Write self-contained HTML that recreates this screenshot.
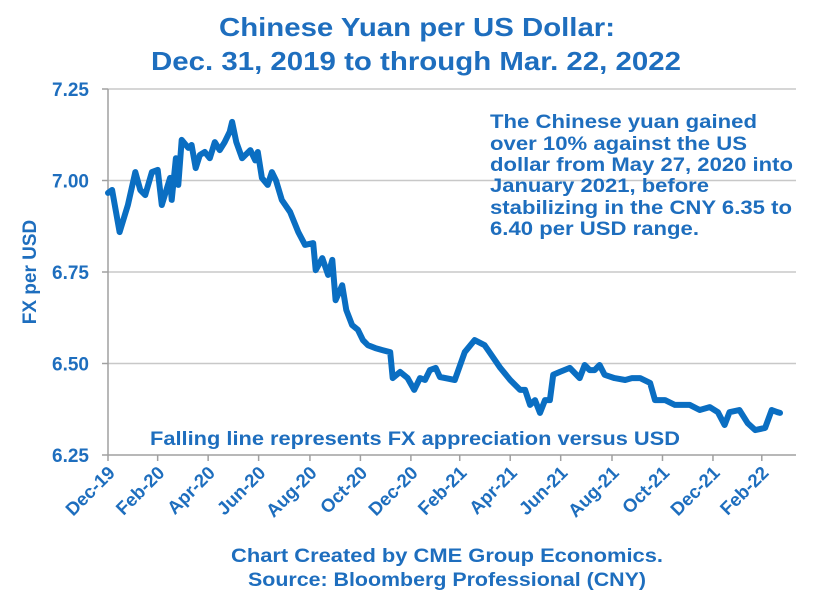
<!DOCTYPE html>
<html><head><meta charset="utf-8"><style>
html,body{margin:0;padding:0;background:#fff;}
svg{display:block;font-family:"Liberation Sans",Arial,sans-serif;font-weight:bold;}
</style></head><body>
<svg id="chart" width="828" height="600" viewBox="0 0 828 600">
<text x="417" y="36" text-anchor="middle" font-size="26" fill="#1E6EBE" textLength="396" lengthAdjust="spacingAndGlyphs">Chinese Yuan per US Dollar:</text>
<text x="416" y="70" text-anchor="middle" font-size="26" fill="#1E6EBE" textLength="530" lengthAdjust="spacingAndGlyphs">Dec. 31, 2019 to through Mar. 22, 2022</text>
<g id="grid"></g>
<g id="axes"></g>
<g id="series"></g>
<text transform="translate(36,272) rotate(-90)" text-anchor="middle" font-size="19" fill="#1E6EBE">FX per USD</text>
<g font-size="19.5" fill="#1E6EBE">
<text x="490" y="128" textLength="267" lengthAdjust="spacingAndGlyphs">The Chinese yuan gained</text>
<text x="490" y="150" textLength="257" lengthAdjust="spacingAndGlyphs">over 10%  against the US</text>
<text x="490" y="171" textLength="303" lengthAdjust="spacingAndGlyphs">dollar from May 27, 2020 into</text>
<text x="490" y="192" textLength="219" lengthAdjust="spacingAndGlyphs">January 2021, before</text>
<text x="490" y="214" textLength="302" lengthAdjust="spacingAndGlyphs">stabilizing in the CNY 6.35 to</text>
<text x="490" y="235" textLength="209" lengthAdjust="spacingAndGlyphs">6.40 per USD range.</text>
</g>
<text x="150" y="445" font-size="19" fill="#1E6EBE" textLength="530" lengthAdjust="spacingAndGlyphs">Falling line represents FX appreciation versus USD</text>
<text x="447" y="562" text-anchor="middle" font-size="19" fill="#1E6EBE" textLength="432" lengthAdjust="spacingAndGlyphs">Chart Created by CME Group Economics.</text>
<text x="447" y="586" text-anchor="middle" font-size="19" fill="#1E6EBE" textLength="398" lengthAdjust="spacingAndGlyphs">Source:  Bloomberg Professional (CNY)</text>
</svg>
<script>
const days = [0,5,14,24,33,39,45,53,60,65,75,77,82,85,89,97,101,106,111,117,123,129,135,141,147,150,155,162,172,178,181,186,193,198,203,210,220,230,238,248,251,259,266,271,275,283,288,295,302,308,314,323,331,341,344,353,362,370,377,383,389,396,401,419,431,443,455,461,474,486,498,504,510,516,522,528,534,538,546,558,570,576,582,588,594,600,612,625,633,643,655,661,673,685,691,703,715,727,737,745,751,763,773,782,794,802,809,812];
const values = [6.966,6.974,6.859,6.933,7.023,6.974,6.96,7.023,7.029,6.933,7.007,6.947,7.061,6.988,7.111,7.089,7.097,7.034,7.07,7.078,7.061,7.105,7.083,7.105,7.133,7.16,7.105,7.061,7.083,7.055,7.078,7.007,6.988,7.023,7.0,6.947,6.914,6.859,6.824,6.829,6.755,6.788,6.742,6.783,6.673,6.714,6.646,6.605,6.592,6.564,6.55,6.542,6.537,6.531,6.46,6.477,6.46,6.428,6.46,6.455,6.482,6.488,6.463,6.455,6.531,6.564,6.55,6.531,6.488,6.455,6.428,6.428,6.387,6.4,6.365,6.4,6.4,6.469,6.477,6.488,6.46,6.496,6.482,6.482,6.496,6.469,6.46,6.455,6.46,6.46,6.447,6.4,6.4,6.387,6.387,6.387,6.373,6.381,6.367,6.332,6.367,6.373,6.337,6.318,6.324,6.373,6.367,6.365];
const yTicks = [6.25,6.50,6.75,7.00,7.25];
const yTickLabels = ["6.25","6.50","6.75","7.00","7.25"];
const xTickDays = [0,60,121,182,244,305,366,425,486,547,609,670,731,790];
const xTickLabels = ["Dec-19","Feb-20","Apr-20","Jun-20","Aug-20","Oct-20","Dec-20","Feb-21","Apr-21","Jun-21","Aug-21","Oct-21","Dec-21","Feb-22"];

const NS="http://www.w3.org/2000/svg";
const X0=108, X1=780, D1=812, Y0=455, Y1=89, GR=796;
const xs=d=>X0+(d/D1)*(X1-X0);
const ys=v=>Y0-(v-6.25)/(7.25-6.25)*(Y0-Y1);
function mk(tag,attrs,parent){const e=document.createElementNS(NS,tag);for(const k in attrs)e.setAttribute(k,attrs[k]);parent.appendChild(e);return e;}
const grid=document.getElementById('grid'),axes=document.getElementById('axes'),series=document.getElementById('series');
yTicks.forEach((v,i)=>{
  if(i>0){const g=mk('line',{x1:X0,x2:GR,y1:ys(v),y2:ys(v),stroke:'#c8c8c8','stroke-width':1.5},grid);
  
  }
  const tm=mk('line',{x1:X0-6,x2:X0,y1:ys(v),y2:ys(v),stroke:'#a0a0a0','stroke-width':1.5},axes);
  
  
  const t=mk('text',{x:89,y:ys(v)+7,'text-anchor':'end','font-size':19,fill:'#1E6EBE'},axes);
  t.textContent=yTickLabels[i];
  
  
});
const ya=mk('line',{x1:X0,x2:X0,y1:Y1,y2:Y0,stroke:'#a0a0a0','stroke-width':1.5},axes);


const xa=mk('line',{x1:X0,x2:GR,y1:Y0,y2:Y0,stroke:'#a0a0a0','stroke-width':1.5},axes);


xTickDays.forEach((d,i)=>{
  const x=xs(d);
  const tm=mk('line',{x1:x,x2:x,y1:Y0,y2:Y0+6,stroke:'#a0a0a0','stroke-width':1.5},axes);
  
  
  const t=mk('text',{x:0,y:0,'text-anchor':'end','font-size':18.5,fill:'#1E6EBE',transform:`translate(${x+8},${Y0+19}) rotate(-45)`},axes);
  t.textContent=xTickLabels[i];
  
  
});
const pts=days.map((d,i)=>xs(d).toFixed(1)+','+ys(values[i]).toFixed(1)).join(' ');
const pl=mk('polyline',{points:pts,fill:'none',stroke:'#0A6EC2','stroke-width':6,'stroke-linejoin':'round','stroke-linecap':'round'},series);


</script>
</body></html>
